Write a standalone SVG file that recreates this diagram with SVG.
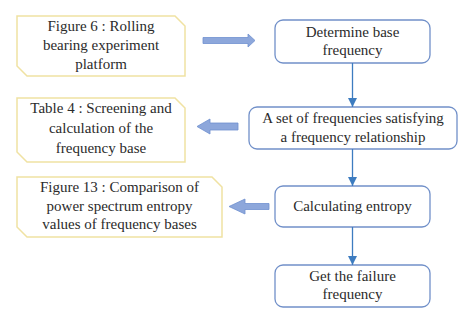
<svg xmlns="http://www.w3.org/2000/svg" width="474" height="324" viewBox="0 0 474 324" font-family="'Liberation Serif', 'DejaVu Serif', serif">
<defs>
<style>
.ref{fill:#fff;stroke:#f0e2a2;stroke-width:1.5}
.node{fill:#fff;stroke:#7190c9;stroke-width:1.3}
text{font-family:'Liberation Serif','DejaVu Serif',serif;font-size:15px;fill:#2b2b2b;text-anchor:middle}
.conn{stroke:#3d7cc0;stroke-width:1.3;fill:none}
.blk{fill:#8da7db;stroke:#7090cf;stroke-width:0.8}
</style>
<marker id="ah" viewBox="0 0 10 10" refX="10" refY="5" markerWidth="9" markerHeight="9" markerUnits="userSpaceOnUse" orient="auto">
<path d="M0,0 L10,5 L0,10 z" fill="#3d7cc0"/>
</marker>
</defs>
<g id="ref-fig6">
<path class="ref" d="M17,16 H175 L185,26 V76 H27 L17,66 Z"/>
<text x="101" y="31">Figure 6 : Rolling</text>
<text x="101" y="50">bearing experiment</text>
<text x="101" y="69">platform</text>
</g>
<g id="ref-table4">
<path class="ref" d="M17,98 H175 L185,108 V162 H27 L17,152 Z"/>
<text x="101" y="113">Table 4 : Screening and</text>
<text x="101" y="133">calculation of the</text>
<text x="101" y="153">frequency base</text>
</g>
<g id="ref-fig13">
<path class="ref" d="M17,177 H212 L222,187 V237 H27 L17,227 Z"/>
<text x="119.5" y="192">Figure 13 : Comparison of</text>
<text x="119.5" y="211">power spectrum entropy</text>
<text x="119.5" y="229">values of frequency bases</text>
</g>
<g id="n1">
<rect class="node" x="275" y="20" width="155" height="43" rx="8"/>
<text x="352.5" y="37">Determine base</text>
<text x="352.5" y="55">frequency</text>
</g>
<g id="n2">
<rect class="node" x="249" y="107" width="208" height="42" rx="8"/>
<text x="353" y="123">A set of frequencies satisfying</text>
<text x="353" y="142">a frequency relationship</text>
</g>
<g id="n3">
<rect class="node" x="275" y="186" width="155" height="41" rx="8"/>
<text x="352.5" y="211">Calculating entropy</text>
</g>
<g id="n4">
<rect class="node" x="275" y="265" width="155" height="42" rx="8"/>
<text x="352.5" y="281">Get the failure</text>
<text x="352.5" y="299">frequency</text>
</g>
<g id="connectors">
<line class="conn" x1="352.5" y1="63" x2="352.5" y2="107" marker-end="url(#ah)"/>
<line class="conn" x1="352.5" y1="149" x2="352.5" y2="186" marker-end="url(#ah)"/>
<line class="conn" x1="352.5" y1="227" x2="352.5" y2="265" marker-end="url(#ah)"/>
<path class="blk" d="M203,37.5 H248 V34 L255,40.5 L248,47 V43.5 H203 Z"/>
<path class="blk" d="M238,123 H210 V119 L197,126.5 L210,134 V130 H238 Z"/>
<path class="blk" d="M269,203.5 H245 V199 L229,206.5 L245,214 V209.5 H269 Z"/>
</g>
</svg>
